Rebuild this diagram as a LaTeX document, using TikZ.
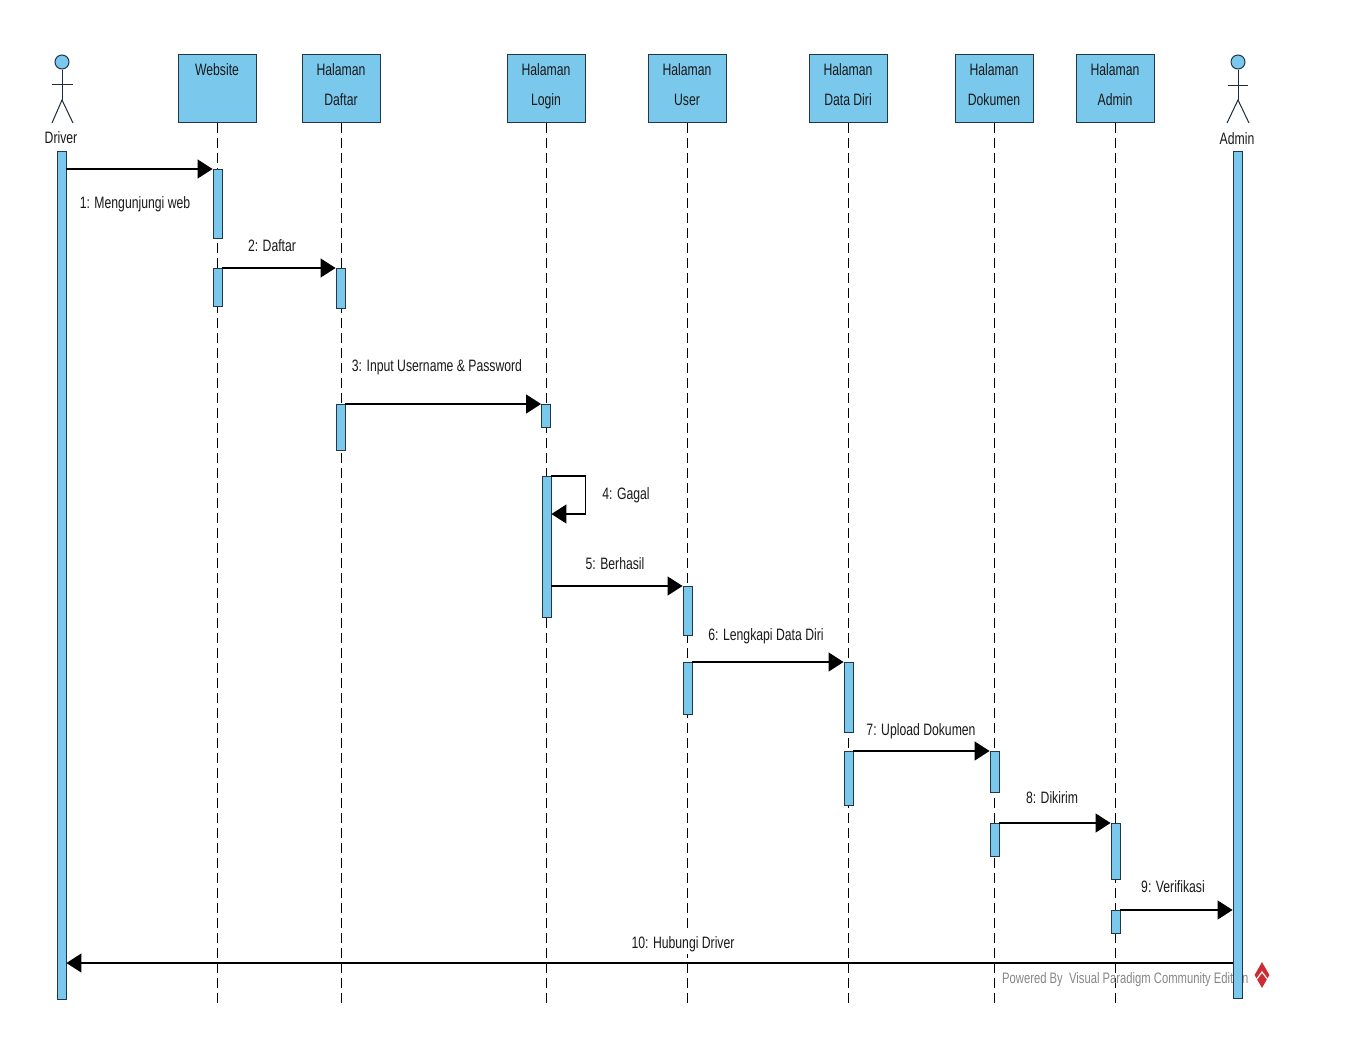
\documentclass[tikz,border=0pt]{standalone}
\usepackage{fontspec}
\setmainfont{Liberation Sans}[FakeStretch=0.74]
\usetikzlibrary{arrows.meta,shapes.geometric}
\definecolor{vpblue}{RGB}{122,200,236}
\definecolor{vpline}{RGB}{35,55,75}
\definecolor{vptext}{RGB}{25,25,25}
\definecolor{vpgray}{RGB}{135,135,135}
\definecolor{vpred}{RGB}{205,45,50}
\begin{document}
\begin{tikzpicture}[x=1pt,y=-1pt,
  font=\fontsize{16.5}{19}\selectfont,
  lbox/.style={draw=vpline, fill=vpblue, line width=1pt, minimum width=78pt, minimum height=68pt, inner sep=0pt, anchor=north},
  act/.style={draw=vpline, fill=vpblue, line width=0.9pt, minimum width=9pt, inner sep=0pt, anchor=north},
  lifeline/.style={black, line width=0.8pt, dash pattern=on 10pt off 5pt},
  msg/.style={black, line width=1.3pt, -{Triangle[length=15pt,width=19pt]}},
  lbl/.style={text=vptext, inner sep=0pt, anchor=base},
  mlbl/.style={lbl, fill=white, inner xsep=1pt, inner ysep=3pt},
  stick/.style={draw=vpline!80!black, line width=1pt},
  head/.style={circle, draw=vpline, fill=vpblue, line width=1pt, minimum size=14pt, inner sep=0pt}
]
\useasboundingbox[fill=white] (0,0) rectangle (1345,1061);
\coordinate (bottom) at (0,1005);

% ---------- lifeline boxes ----------
\node[lbox] (website) at (217,54) {};
\node[lbox] (daftar) at (341,54) {};
\node[lbox] (login) at (546,54) {};
\node[lbox] (user) at (687,54) {};
\node[lbox] (datadiri) at (848,54) {};
\node[lbox] (dokumen) at (994,54) {};
\node[lbox] (hadmin) at (1115,54) {};

\node[lbl] (websiteT) at (217,75) {Website};
\node[lbl] (daftarT1) at (341,75) {Halaman};
\node[lbl] (daftarT2) at (341,105) {Daftar};
\node[lbl] (loginT1) at (546,75) {Halaman};
\node[lbl] (loginT2) at (546,105) {Login};
\node[lbl] (userT1) at (687,75) {Halaman};
\node[lbl] (userT2) at (687,105) {User};
\node[lbl] (datadiriT1) at (848,75) {Halaman};
\node[lbl] (datadiriT2) at (848,105) {Data Diri};
\node[lbl] (dokumenT1) at (994,75) {Halaman};
\node[lbl] (dokumenT2) at (994,105) {Dokumen};
\node[lbl] (hadminT1) at (1115,75) {Halaman};
\node[lbl] (hadminT2) at (1115,105) {Admin};

% ---------- actors ----------
\node[head] (drvhead) at (62,62) {};
\draw[stick] (drvhead.south) -- (62,100) coordinate (drvhip);
\draw[stick] (52,84) -- (73,84);
\draw[stick] (52,123) -- (drvhip) -- (73,123);
\node[lbl] (drvT) at (61,143) {Driver};

\node[head] (admhead) at (1238,62) {};
\draw[stick] (admhead.south) -- (1238,100) coordinate (admhip);
\draw[stick] (1228,85) -- (1248,85);
\draw[stick] (1227,123) -- (admhip) -- (1249,123);
\node[lbl] (admT) at (1237,144) {Admin};

% ---------- lifelines ----------
\foreach \b in {website,daftar,login,user,datadiri,dokumen,hadmin}
  \draw[lifeline] (\b.south) -- (\b.south |- bottom);

% ---------- watermark ----------
\node[text=vpgray, inner sep=0pt, anchor=base west, font=\fontsize{15.2}{17}\selectfont] (wm) at (1002,983) {Powered By\ \ Visual Paradigm Community Edition};
\node[diamond, fill=vpred, minimum width=15pt, minimum height=26pt, inner sep=0pt] (wmlogo) at (1262,975) {};
\draw[white, line width=1.2pt] (1256,980) -- (1262,972) -- (1268,980);

% ---------- activation bars ----------
\node[act, minimum height=848pt] (drvbar) at (61.5,151) {};
\node[act, minimum height=847pt] (admbar) at (1237.5,151) {};
\node[act, minimum height=69pt] (w1) at (217.5,169) {};
\node[act, minimum height=38pt] (w2) at (217.5,268) {};
\node[act, minimum height=40pt] (df1) at (340.5,268) {};
\node[act, minimum height=46pt] (df2) at (340.5,404) {};
\node[act, minimum height=23pt] (lg1) at (546,404) {};
\node[act, minimum height=141pt] (lg2) at (546.5,476) {};
\node[act, minimum height=49pt] (us1) at (687.5,586) {};
\node[act, minimum height=52pt] (us2) at (687.5,662) {};
\node[act, minimum height=70pt] (dd1) at (848.5,662) {};
\node[act, minimum height=54pt] (dd2) at (848.5,751) {};
\node[act, minimum height=41pt] (dk1) at (994.5,751) {};
\node[act, minimum height=33pt] (dk2) at (994.5,823) {};
\node[act, minimum height=56pt] (ad1) at (1115.5,823) {};
\node[act, minimum height=23pt] (ad2) at (1115.5,910) {};

% ---------- messages ----------
\draw[msg] (drvbar.east |- w1.north) -- (w1.north west);
\node[mlbl] (m1) at (135,208) {1: Mengunjungi web};

\draw[msg] (w2.north east) -- (df1.north west);
\node[mlbl] (m2) at (272,251) {2: Daftar};

\draw[msg] (df2.north east) -- (lg1.north west);
\node[mlbl] (m3) at (437,371) {3: Input Username \& Password};

\draw[msg] (lg2.north east) -- ++(34,0) |- ([yshift=-38pt]lg2.north east);
\node[mlbl] (m4) at (626,499) {4: Gagal};

\draw[msg] (lg2.east |- us1.north) -- (us1.north west);
\node[mlbl] (m5) at (615,569) {5: Berhasil};

\draw[msg] (us2.north east) -- (dd1.north west);
\node[mlbl] (m6) at (766,640) {6: Lengkapi Data Diri};

\draw[msg] (dd2.north east) -- (dk1.north west);
\node[mlbl] (m7) at (921,735) {7: Upload Dokumen};

\draw[msg] (dk2.north east) -- (ad1.north west);
\node[mlbl] (m8) at (1052,803) {8: Dikirim};

\draw[msg] (ad2.north east) -- (admbar.west |- ad2.north);
\node[mlbl] (m9) at (1173,892) {9: Verifikasi};

\coordinate (y10) at (0,963);
\draw[msg] (admbar.west |- y10) -- (drvbar.east |- y10);
\node[mlbl] (m10) at (683,948) {10: Hubungi Driver};
\end{tikzpicture}
\end{document}
